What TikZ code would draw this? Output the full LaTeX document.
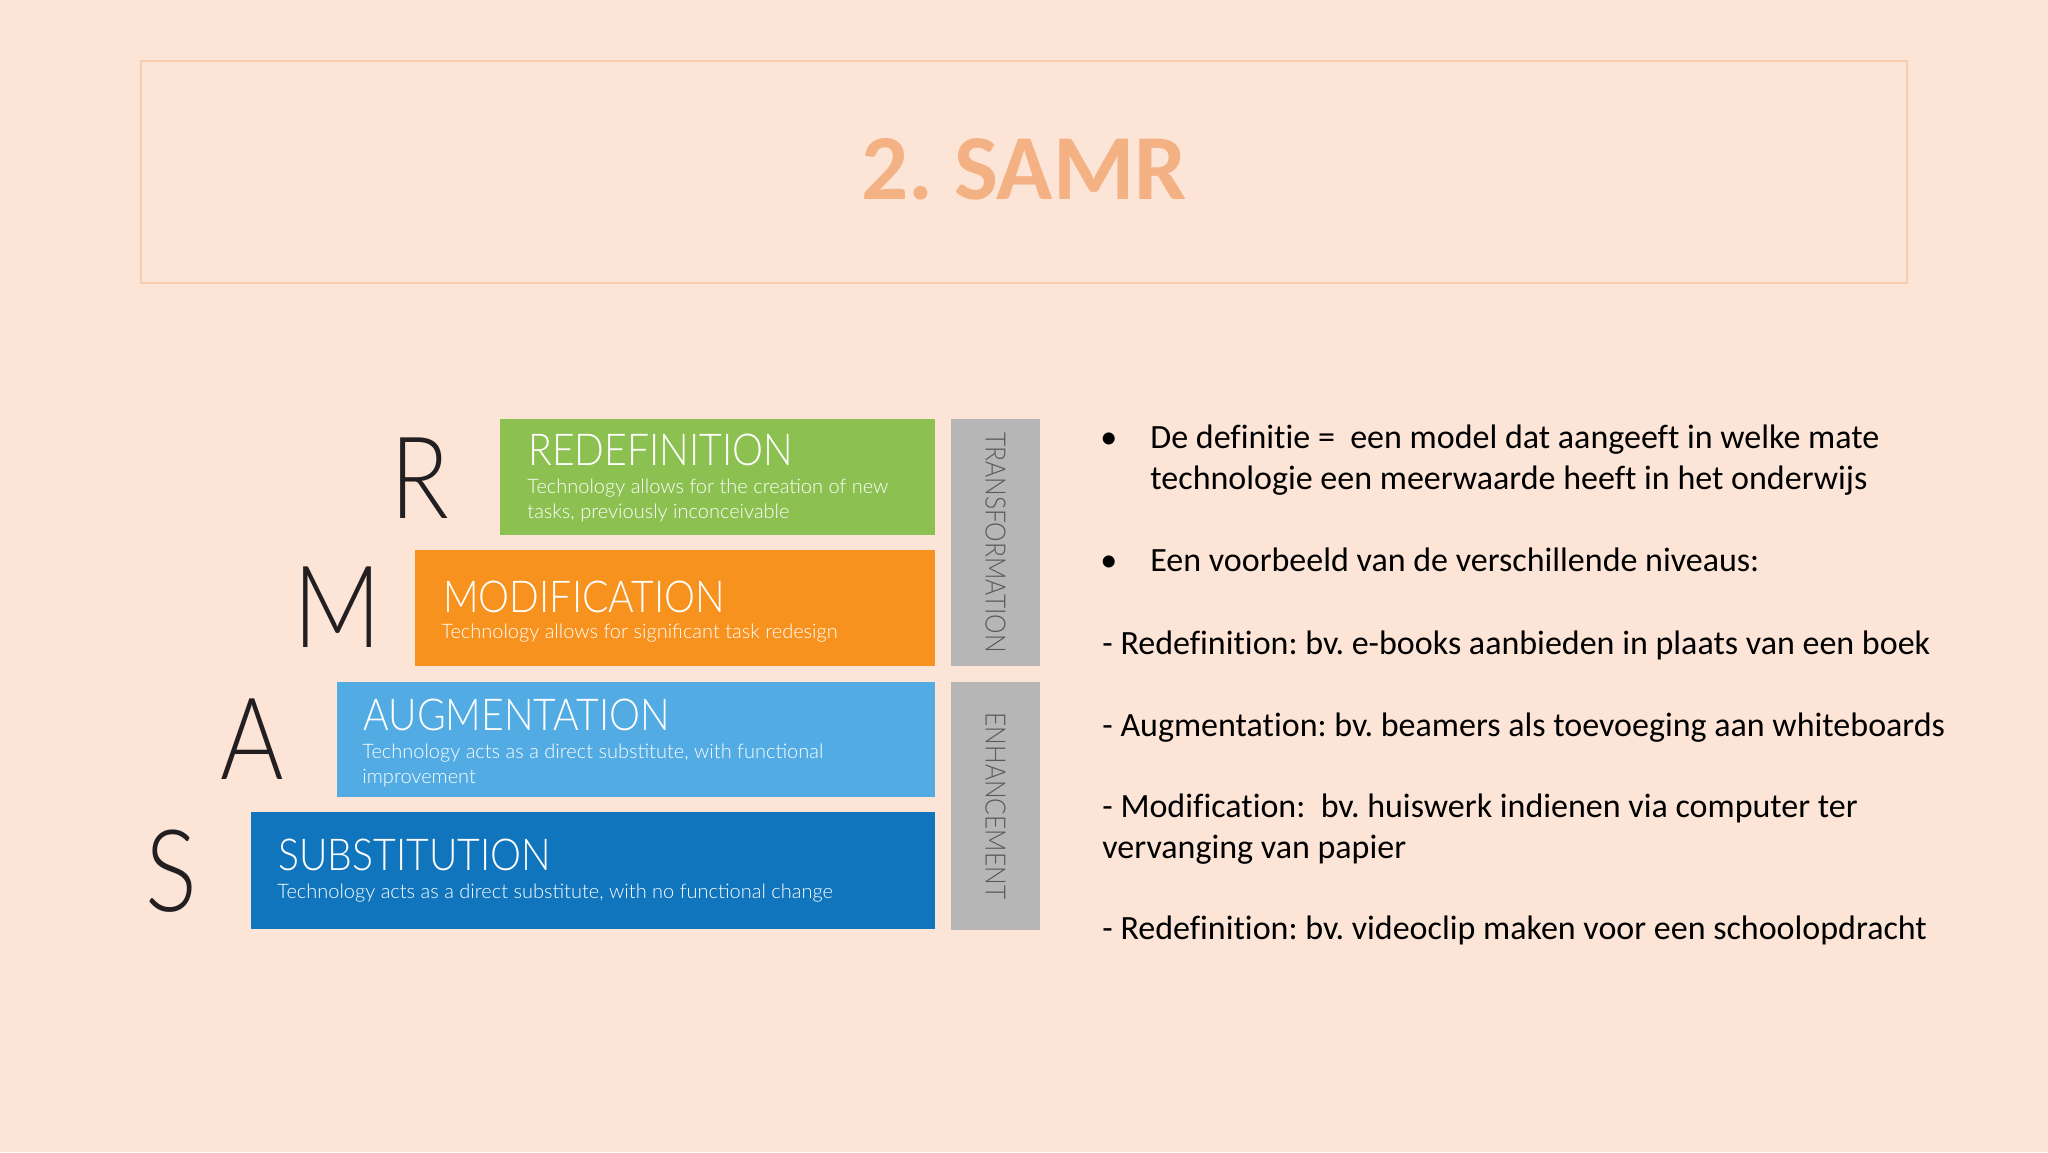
\documentclass[tikz,border=0pt]{standalone}
\usepackage{fontspec}
\usepackage{xcolor}
\setmainfont{Carlito}[Ligatures=NoCommon]
\IfFontExistsTF{Lato Light}
  {\newfontfamily\samrfont{Lato Light}[FakeStretch=0.89]
   \newfontfamily\samrsub{Lato Light}
   \newfontfamily\sidefont{Lato Light}[FakeStretch=0.88]
   \newfontfamily\thinfont{Lato Light}[FakeStretch=0.85]}
  {\newfontfamily\samrfont{Lato}[FakeStretch=0.89]
   \newfontfamily\samrsub{Lato}
   \newfontfamily\sidefont{Lato}[FakeStretch=0.88]
   \newfontfamily\thinfont{Lato}[FakeStretch=0.85]}

\definecolor{bgpeach}{RGB}{252,228,214}
\definecolor{titleline}{RGB}{248,205,175}
\definecolor{titleorange}{RGB}{244,177,131}
\definecolor{samrgreen}{RGB}{140,193,82}
\definecolor{samrorange}{RGB}{247,146,30}
\definecolor{samrlight}{RGB}{82,171,226}
\definecolor{samrdark}{RGB}{16,117,188}
\definecolor{sidegray}{RGB}{182,182,182}
\definecolor{sidetextgray}{RGB}{89,89,89}
\definecolor{lettergray}{RGB}{35,31,32}

\begin{document}
\frenchspacing
\begin{tikzpicture}[x=0.5pt,y=-0.5pt,
  lvltitle/.style={anchor=base west, inner sep=0pt, text=white,
    font=\samrfont\fontsize{22}{24}\selectfont},
  lvlsub/.style={anchor=base west, inner sep=0pt, text=white,
    font=\samrsub\fontsize{10}{12.5}\selectfont},
  bigletter/.style={anchor=east, inner sep=0pt, text=lettergray,
    font=\thinfont\fontsize{57}{57}\selectfont},
  sidetext/.style={rotate=-90, inner sep=0pt, text=sidetextgray,
    font=\sidefont\fontsize{14}{14}\selectfont},
  bodytext/.style={anchor=base west, inner sep=0pt, text=black,
    font=\fontsize{17}{20.5}\selectfont}]

  % Slide background
  \fill[bgpeach] (0,0) rectangle (2048,1152);
  \useasboundingbox (0,0) rectangle (2048,1152);

  % Title frame
  \draw[titleline, line width=0.8pt] (141,61) rectangle (1907,283);
  \node[anchor=base, inner sep=0pt, text=titleorange,
        font=\bfseries\fontsize{46.5}{50}\selectfont] (title) at (1024,199) {2. SAMR};

  % SAMR levels
  \fill[samrgreen]  (500,419) rectangle (935,535);
  \fill[samrorange] (415,550) rectangle (935,666);
  \fill[samrlight]  (337,682) rectangle (935,797);
  \fill[samrdark]   (251,812) rectangle (935,929);

  % Level letters
  \node[bigletter] (letR) at (450,478) {R};
  \node[bigletter] (letM) at (382,607) {M};
  \node[bigletter] (letA) at (284,739) {A};
  \node[bigletter] (letS) at (198,871) {S};

  % Level texts
  \node[lvltitle] (redef) at (528,465) {REDEFINITION};
  \node[lvlsub] (redefa) at (527,493) {Technology allows for the creation of new};
  \node[lvlsub] (redefb) at (527,518) {tasks, previously inconceivable};

  \node[lvltitle] (modif) at (443,612) {MODIFICATION};
  \node[lvlsub] (modifa) at (441,638) {Technology allows for significant task redesign};

  \node[lvltitle] (augm) at (363,730) {AUGMENTATION};
  \node[lvlsub] (augma) at (362,758) {Technology acts as a direct substitute, with functional};
  \node[lvlsub] (augmb) at (362,783) {improvement};

  \node[lvltitle] (subst) at (278,870) {SUBSTITUTION};
  \node[lvlsub] (substa) at (277,898) {Technology acts as a direct substitute, with no functional change};

  % Side bars
  \fill[sidegray] (951,419) rectangle (1040,666);
  \fill[sidegray] (951,682) rectangle (1040,930);
  \node[sidetext] (transf) at (995.5,542.5) {TRANSFORMATION};
  \node[sidetext] (enhan) at (995.5,806) {ENHANCEMENT};

  % Explanation
  \node[bodytext] (bula) at (1100,448) {•};
  \node[bodytext] (defa) at (1150,448) {De definitie = \ een model dat aangeeft in welke mate};
  \node[bodytext] (defb) at (1150,489) {technologie een meerwaarde heeft in het onderwijs};
  \node[bodytext] (bulb) at (1100,571) {•};
  \node[bodytext] (vbd) at (1150,571) {Een voorbeeld van de verschillende niveaus:};
  \node[bodytext] (exr) at (1102,654) {- Redefinition: bv. e-books aanbieden in plaats van een boek};
  \node[bodytext] (exa) at (1102,736) {- Augmentation: bv. beamers als toevoeging aan whiteboards};
  \node[bodytext] (exma) at (1102,817) {- Modification: \ bv. huiswerk indienen via computer ter};
  \node[bodytext] (exmb) at (1102,858) {vervanging van papier};
  \node[bodytext] (exs) at (1102,939) {- Redefinition: bv. videoclip maken voor een schoolopdracht};
\end{tikzpicture}
\end{document}
